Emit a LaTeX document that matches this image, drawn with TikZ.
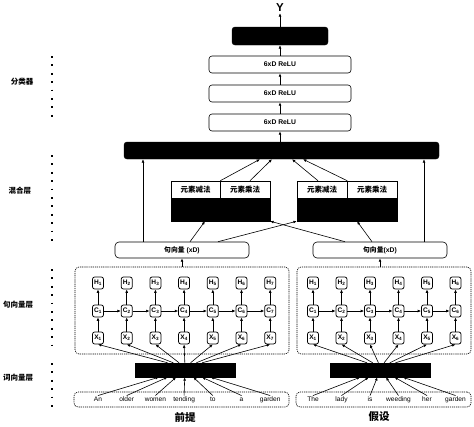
\documentclass[tikz,border=0pt]{standalone}
\usepackage{fontspec}
\setmainfont{Liberation Sans}
\newfontfamily\cjk{Noto Sans CJK SC}
\usetikzlibrary{arrows.meta}
\begin{document}
\begin{tikzpicture}[x=1pt,y=-1pt,
  arr/.style={-{Latex[length=3.4pt,width=2.8pt]}, line width=0.6pt},
  whitebox/.style={draw, line width=0.6pt, rounded corners=3pt, fill=white, inner sep=0pt, font=\bfseries\fontsize{6.8}{8}\selectfont},
  blackbox/.style={draw, fill=black, inner sep=0pt},
  mixcell/.style={draw, line width=0.5pt, fill=white, inner sep=0pt, minimum height=17pt, font=\cjk\bfseries\fontsize{7.5}{8}\selectfont},
  cell/.style={draw, line width=0.75pt, rounded corners=2.2pt, minimum width=11pt, minimum height=12pt, inner sep=0pt, font=\bfseries\fontsize{6.6}{6}\selectfont},
  dbox/.style={draw, dash pattern=on 1.2pt off 0.9pt, line width=0.6pt, rounded corners=4pt, inner sep=0pt},
  word/.style={font=\fontsize{6.6}{7}\selectfont, inner sep=0.5pt, text height=5pt, text depth=1.5pt},
  side/.style={font=\cjk\bfseries\fontsize{7.5}{8}\selectfont},
  dots/.style={line width=1.8pt, dash pattern=on 1.8pt off 6.6pt}
]
\useasboundingbox (0,0) rectangle (474,426);

% side labels
\node[side] (s1) at (22,82) {分类器};
\node[side] (s2) at (20,191) {混合层};
\node[side] (s3) at (18,305) {句向量层};
\node[side] (s4) at (18,378) {词向量层};
\coordinate (d1a) at (52,56); \coordinate (d1b) at (52,118);
\coordinate (d2a) at (52,155); \coordinate (d2b) at (52,243);
\coordinate (d3a) at (52,269); \coordinate (d3b) at (52,349);
\coordinate (d4a) at (52,363); \coordinate (d4b) at (52,409);
\draw[dots] (d1a) -- (d1b);
\draw[dots] (d2a) -- (d2b);
\draw[dots] (d3a) -- (d3b);
\draw[dots] (d4a) -- (d4b);

% classifier
\node[font=\bfseries\fontsize{11.5}{12}\selectfont, inner sep=0pt] (Y) at (280,8) {Y};
\node[blackbox, rounded corners=3pt, minimum width=96pt, minimum height=18pt] (top) at (280,36) {};
\node[whitebox, minimum width=142pt, minimum height=17pt] (r1) at (280,64.5) {6xD ReLU};
\node[whitebox, minimum width=142pt, minimum height=17pt] (r2) at (280,93.5) {6xD ReLU};
\node[whitebox, minimum width=142pt, minimum height=17pt] (r3) at (280,122.5) {6xD ReLU};
\node[blackbox, rounded corners=3pt, minimum width=315pt, minimum height=17pt] (big) at (281.5,150.5) {};
\draw[arr] (top.north) -- ([yshift=-1pt]Y.south);
\draw[arr] (r1.north) -- (top.south);
\draw[arr] (r2.north) -- (r1.south);
\draw[arr] (r3.north) -- (r2.south);
\draw[arr] (r3.south |- big.north) -- (r3.south);

% mixing layer
\node[mixcell, minimum width=49pt] (ml1) at (195.5,189.5) {元素减法};
\node[mixcell, minimum width=50pt] (ml2) at (245,189.5) {元素乘法};
\node[blackbox, minimum width=99pt, minimum height=23pt] (mlb) at (220.5,209.5) {};
\node[mixcell, minimum width=50pt] (mr1) at (322,189.5) {元素减法};
\node[mixcell, minimum width=50pt] (mr2) at (372,189.5) {元素乘法};
\node[blackbox, minimum width=100pt, minimum height=23pt] (mrb) at (347,209.5) {};

\node[whitebox, rounded corners=4pt, minimum width=134pt, minimum height=16pt] (sl) at (182,250) {{\cjk\bfseries 句向量} (xD)};
\node[whitebox, rounded corners=4pt, minimum width=134pt, minimum height=16pt] (sr) at (380,250) {{\cjk\bfseries 句向量}(xD)};

\draw[arr] ([xshift=-39pt]sl.north) -- ([xshift=-39pt]sl.north |- big.south);
\draw[arr] ([xshift=44pt]sr.north) -- ([xshift=44pt]sr.north |- big.south);
\draw[arr] ([xshift=8pt]sl.north) -- ([xshift=-15.5pt]mlb.south);
\draw[arr] ([xshift=36pt]sl.north) -- (mrb.south west);
\draw[arr] ([xshift=-35pt]sr.north) -- (mlb.south east);
\draw[arr] ([xshift=-8pt]sr.north) -- ([xshift=10pt]mrb.south);
\draw[arr] (ml1.north east) -- ([xshift=-21.5pt]big.south);
\draw[arr] ([xshift=5pt]ml2.north) -- ([xshift=-9.5pt]big.south);
\draw[arr] (mr1.north east) -- ([xshift=21.5pt]big.south);
\draw[arr] ([xshift=-4pt]mr1.north) -- ([xshift=10.5pt]big.south);

% sentence encoders
\node[dbox, minimum width=214pt, minimum height=87pt] (dl) at (182,310.5) {};
\node[dbox, minimum width=174pt, minimum height=87pt] (dr) at (384,310.5) {};
\draw[arr] (dl.north) -- (sl.south);
\draw[arr] (sr.south |- dr.north) -- (sr.south);

\foreach \i in {1,...,7} {
  \pgfmathsetmacro{\xx}{98+(\i-1)*28.7}
  \node[cell] (lx\i) at (\xx,338) {X\textsubscript{\i}};
  \node[cell] (lc\i) at (\xx,311) {C\textsubscript{\i}};
  \node[cell] (lh\i) at (\xx,283) {H\textsubscript{\i}};
  \draw[arr] (lx\i) -- (lc\i);
  \draw[arr] (lc\i) -- (lh\i);
}
\foreach \i [evaluate=\i as \j using int(\i+1)] in {1,...,6} {
  \draw[arr] (lc\i) -- (lc\j);
}
\foreach \i in {1,...,6} {
  \pgfmathsetmacro{\xx}{313+(\i-1)*28.5}
  \node[cell] (rx\i) at (\xx,338) {X\textsubscript{\i}};
  \node[cell] (rc\i) at (\xx,311) {C\textsubscript{\i}};
  \node[cell] (rh\i) at (\xx,283) {H\textsubscript{\i}};
  \draw[arr] (rx\i) -- (rc\i);
  \draw[arr] (rc\i) -- (rh\i);
}
\foreach \i [evaluate=\i as \j using int(\i+1)] in {1,...,5} {
  \draw[arr] (rc\i) -- (rc\j);
}

% word embeddings
\node[blackbox, minimum width=100pt, minimum height=14pt] (el) at (185,370) {};
\node[blackbox, minimum width=100pt, minimum height=14pt] (er) at (380.5,370) {};
\node[dbox, minimum width=215pt, minimum height=15pt] (wl) at (181.5,399.5) {};
\node[dbox, minimum width=175pt, minimum height=15pt] (wr) at (383.5,399.5) {};

\foreach \i in {1,...,7} {
  \pgfmathsetmacro{\dx}{(98+(\i-1)*28.7-185)*0.2}
  \draw[arr] ([xshift=\dx pt]el.north) -- (lx\i.south);
}
\foreach \i in {1,...,6} {
  \pgfmathsetmacro{\dx}{(313+(\i-1)*28.5-380.5)*0.2}
  \draw[arr] ([xshift=\dx pt]er.north) -- (rx\i.south);
}
\foreach \w [count=\i] in {An,older,women,tending,to,a,garden} {
  \pgfmathsetmacro{\xx}{98+(\i-1)*28.7}
  \pgfmathsetmacro{\dx}{(\xx-185)*0.3}
  \node[word] (lw\i) at (\xx,399.5) {\w};
  \draw[arr] (lw\i.north) -- ([xshift=\dx pt]el.south);
}
\foreach \w [count=\i] in {The,lady,is,weeding,her,garden} {
  \pgfmathsetmacro{\xx}{313+(\i-1)*28.5}
  \pgfmathsetmacro{\dx}{(\xx-380.5)*0.3}
  \node[word] (rw\i) at (\xx,399.5) {\w};
  \draw[arr] (rw\i.north) -- ([xshift=\dx pt]er.south);
}

\node[font=\cjk\bfseries\fontsize{10.5}{11}\selectfont] (pl) at (185,417) {前提};
\node[font=\cjk\bfseries\fontsize{10.5}{11}\selectfont] (pr) at (379,417) {假设};
\end{tikzpicture}
\end{document}
